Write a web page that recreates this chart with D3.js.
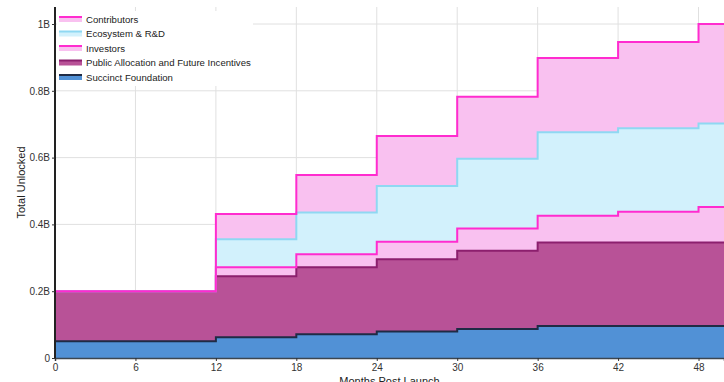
<!DOCTYPE html>
<html><head><meta charset="utf-8">
<script src="https://cdn.jsdelivr.net/npm/d3@7/dist/d3.min.js"></script>
<style>body{margin:0;background:#fff}svg{display:block;font-family:"Liberation Sans",Arial,sans-serif}</style>
</head><body><svg id="c" width="724" height="382"></svg>
<script>
const months = [0, 12, 18, 24, 30, 36, 42, 48];
const seriesNames = ["Succinct Foundation", "Public Allocation and Future Incentives", "Investors", "Ecosystem & R&D", "Contributors"];
const foundation = [0.05, 0.0625, 0.071, 0.079, 0.087, 0.096, 0.096, 0.096];
const publicAlloc = [0.15, 0.1825, 0.201, 0.217, 0.234, 0.25, 0.25, 0.25];
const investors = [0, 0.027, 0.039, 0.052, 0.067, 0.08, 0.092, 0.106];
const ecosystem = [0, 0.0833, 0.125, 0.1667, 0.2083, 0.25, 0.25, 0.25];
const contributors = [0, 0.076, 0.112, 0.15, 0.186, 0.222, 0.258, 0.298];
const xTicks = [0, 6, 12, 18, 24, 30, 36, 42, 48];
const yTicks = [0, 0.2, 0.4, 0.6, 0.8, 1.0];
const yTickLabels = ["0", "0.2B", "0.4B", "0.6B", "0.8B", "1B"];

const fills = ["#5191d6", "#b85297", "#f9c1f0", "#d2f1fc", "#f9c1f0"];
const strokes = ["#1f2b45", "#8c1f6e", "#ff2ccf", "#8fd8f2", "#ff2ccf"];

const svg = d3.select("#c");
const L = 55, R = 724, T = 7, B = 358;
const xMax = 49.9;
const x = d3.scaleLinear().domain([0, xMax]).range([L, R]);
const y = d3.scaleLinear().domain([0, 1.0]).range([B, 24]);

// grid
const g = svg.append("g");
g.selectAll(".vg").data(xTicks.slice(1)).join("line")
  .attr("x1", d => x(d)).attr("x2", d => x(d)).attr("y1", T).attr("y2", B)
  .attr("stroke", "#e0e0e0").attr("stroke-width", 1);
g.selectAll(".hg").data(yTicks.slice(1)).join("line")
  .attr("x1", L).attr("x2", R).attr("y1", d => y(d)).attr("y2", d => y(d))
  .attr("stroke", "#e0e0e0").attr("stroke-width", 1);

// stack
const raw = [foundation, publicAlloc, investors, ecosystem, contributors];
const rows = months.map((m, i) => {
  const o = {m};
  seriesNames.forEach((s, k) => o[s] = raw[k][i]);
  return o;
});
const last = Object.assign({}, rows[rows.length - 1], {m: xMax});
rows.push(last);
const stacked = d3.stack().keys(seriesNames)(rows);

const area = d3.area().curve(d3.curveStepAfter)
  .x(d => x(d.data.m)).y0(d => y(d[0])).y1(d => y(d[1]));
const line = d3.line().curve(d3.curveStepAfter)
  .x(d => x(d.data.m)).y(d => y(d[1]));

svg.append("g").selectAll("path").data(stacked).join("path")
  .attr("d", area).attr("fill", (d, i) => fills[i]);
svg.append("g").selectAll("path").data(stacked).join("path")
  .attr("d", line).attr("fill", "none").attr("stroke", (d, i) => strokes[i]).attr("stroke-width", 2);

// axes
const xAxis = d3.axisBottom(x).tickValues(xTicks).tickSize(3).tickPadding(3);
const xa = svg.append("g").attr("transform", `translate(0,${B})`).call(xAxis);
xa.select(".domain").attr("stroke", "#3c4650").attr("stroke-width", 1.5);
xa.selectAll("text").attr("font-size", 10).attr("fill", "#333");
xa.selectAll(".tick line").attr("stroke", "#333");

const yAxis = d3.axisLeft(y).tickValues(yTicks).tickFormat((d, i) => yTickLabels[i]).tickSize(3).tickPadding(2);
const ya = svg.append("g").attr("transform", `translate(${L},0)`).call(yAxis);
ya.select(".domain").attr("d", `M0,${T}V${B}`).attr("stroke", "#222").attr("stroke-width", 2);
ya.selectAll("text").attr("font-size", 10).attr("fill", "#333");
ya.selectAll(".tick line").attr("stroke", "#333");

svg.append("text").attr("transform", `translate(25,${(T + B) / 2}) rotate(-90)`)
  .attr("text-anchor", "middle").attr("font-size", 11).attr("fill", "#222").text("Total Unlocked");
svg.append("text").attr("x", (L + R) / 2).attr("y", 385)
  .attr("text-anchor", "middle").attr("font-size", 11).attr("fill", "#222").text("Months Post Launch");

// legend
const lg = svg.append("g");
lg.append("rect").attr("x", 57).attr("y", 11).attr("width", 196).attr("height", 75).attr("fill", "#fff");
const order = [4, 3, 2, 1, 0];
order.forEach((k, i) => {
  const cy = 19 + i * 14.5;
  lg.append("rect").attr("x", 59).attr("y", cy - 2).attr("width", 23).attr("height", 5).attr("fill", fills[k]);
  lg.append("line").attr("x1", 59).attr("x2", 82).attr("y1", cy - 2).attr("y2", cy - 2)
    .attr("stroke", strokes[k]).attr("stroke-width", 2);
  lg.append("text").attr("x", 86).attr("y", cy + 3.5).attr("font-size", 9.6).attr("fill", "#222").text(seriesNames[k]);
});
</script></body></html>
